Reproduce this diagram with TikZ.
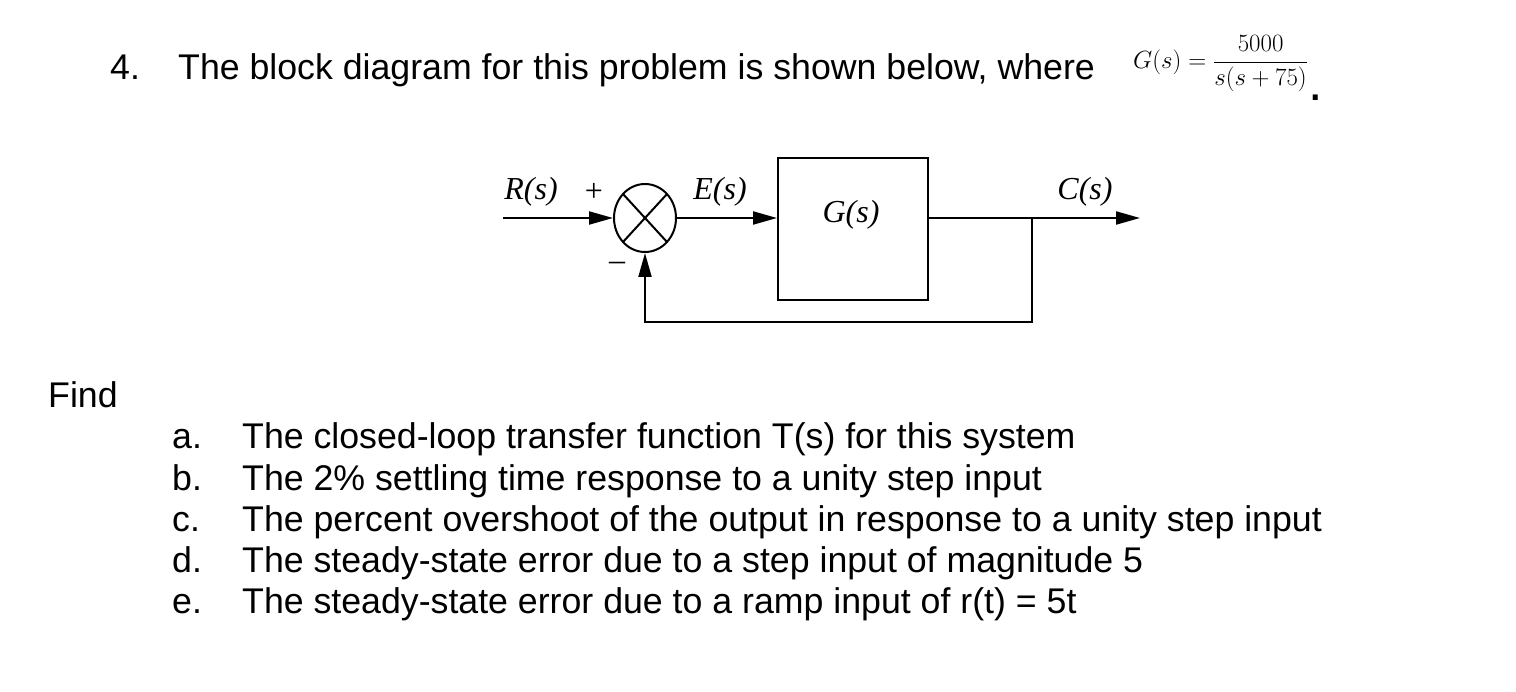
\documentclass[tikz,border=0pt]{standalone}
\usepackage{amsmath}
\usepackage{fontspec}
\setmainfont{Liberation Sans}
\newfontfamily\tms{Liberation Serif}
\usetikzlibrary{arrows.meta,shapes.geometric,calc}
\begin{document}
\begin{tikzpicture}[x=1pt,y=-1pt,
  txt/.style={anchor=base west,inner sep=0pt,font=\fontsize{35.7}{40}\selectfont},
  lbl/.style={inner sep=0pt,font=\tms\itshape\fontsize{32}{36}\selectfont},
  sig/.style={line width=2pt,-{Triangle[length=24pt,width=13pt]}},
  ln/.style={line width=2pt}]
\useasboundingbox (0,0) rectangle (1516,692);
\node[txt] (n4) at (110,80) {4.};
\node[txt] (q) at (178,80) {The block diagram for this problem is shown below, where};
\node[anchor=west,inner sep=0pt,font=\fontsize{52}{60}\selectfont] (gf) at (1133,68) {$G(s)=\dfrac{5000}{s(s+75)}\raisebox{-0.6em}{.}$};
% diagram
\coordinate (in) at (503,218);
\node[draw,ellipse,line width=2pt,minimum width=62pt,minimum height=68pt,inner sep=0pt] (sum) at (645,218) {};
\draw[ln] ($(sum.center)+(-22,-24)$) -- ($(sum.center)+(22,24)$);
\draw[ln] ($(sum.center)+(22,-24)$) -- ($(sum.center)+(-22,24)$);
\node[draw,line width=2pt,minimum width=150pt,minimum height=142pt,inner sep=0pt] (G) at (853,229) {};
\node[lbl] (gl) at (851,215) {G(s)};
\coordinate (br) at (1032,218);
\coordinate (out) at (1140,218);
\coordinate (fb) at (1032,322);
\coordinate (fb2) at (645,322);
\draw[sig] (in) -- (sum.west);
\draw[sig] (sum.east) -- (G.west |- sum.east);
\draw[ln] (G.east |- br) -- (br);
\draw[sig] (br) -- (out);
\draw[sig] (br) -- (fb) -- (fb2) -- (sum.south);
\node[lbl] (rl) at (531,192) {R(s)};
\node[lbl,font=\tms\fontsize{32}{36}\selectfont] (pl) at (594,192) {+};
\node[lbl] (el) at (720,192) {E(s)};
\node[lbl] (cl) at (1085,192) {C(s)};
\node[lbl,font=\tms\fontsize{32}{36}\selectfont] (ml) at (617,266) {–};
% text
\node[txt] (find) at (48,408) {Find};
\foreach \i/\l/\t/\y in {1/a./The closed-loop transfer function T(s) for this system/449,
  2/b./The 2\% settling time response to a unity step input/490,
  3/c./The percent overshoot of the output in response to a unity step input/531,
  4/d./The steady-state error due to a step input of magnitude 5/572,
  5/e./The steady-state error due to a ramp input of r(t) = 5t/613}{
  \node[txt] (l\i) at (172,\y) {\l};
  \node[txt] (t\i) at (242,\y) {\t};
}
\end{tikzpicture}
\end{document}
